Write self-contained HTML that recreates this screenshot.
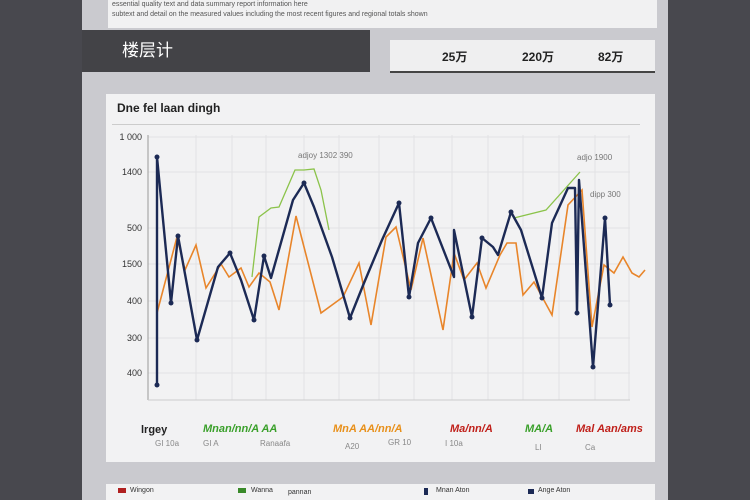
<!DOCTYPE html>
<html><head><meta charset="utf-8"><style>
body{margin:0;width:750px;height:500px;overflow:hidden;background:#c9c9cd;font-family:"Liberation Sans","Noto Sans CJK SC",sans-serif;position:relative}
.a{position:absolute}
</style></head><body>
<div class="a" style="left:0;top:0;width:82px;height:500px;background:#48484e"></div>
<div class="a" style="left:668px;top:0;width:82px;height:500px;background:#48484e"></div>
<div class="a" style="left:82px;top:0;width:586px;height:500px;background:#cacacf"></div>
<div class="a" style="left:108px;top:0;width:545px;height:28px;background:#f1f1f2;font-size:7px;color:#555;line-height:10px;padding-left:4px">essential quality text and data summary report information here<br>subtext and detail on the measured values including the most recent figures and regional totals shown</div>
<div class="a" style="left:82px;top:30px;width:288px;height:42px;background:#434347;color:#fff;font-size:17px;line-height:42px;padding-left:40px;box-sizing:border-box">楼层计</div>
<div class="a" style="left:390px;top:40px;width:265px;height:31px;background:#efeff0;border-bottom:2px solid #444;font-size:12px;font-weight:bold;color:#222">
<span class="a" style="left:52px;top:8px">25万</span><span class="a" style="left:132px;top:8px">220万</span><span class="a" style="left:208px;top:8px">82万</span></div>
<div class="a" style="left:106px;top:94px;width:549px;height:368px;background:#f2f2f3"></div>
<div class="a" style="left:117px;top:101px;font-size:12px;font-weight:bold;color:#222">Dne fel laan dingh</div>
<div class="a" style="left:112px;top:124px;width:528px;height:1px;background:#ccc"></div>
<svg class="a" style="left:0;top:0" width="750" height="500">
<g stroke="#e2e2e4" stroke-width="1">
<line x1="148" y1="137" x2="630" y2="137"/><line x1="148" y1="172" x2="630" y2="172"/><line x1="148" y1="228" x2="630" y2="228"/><line x1="148" y1="264" x2="630" y2="264"/><line x1="148" y1="301" x2="630" y2="301"/><line x1="148" y1="338" x2="630" y2="338"/><line x1="148" y1="373" x2="630" y2="373"/>
<line x1="196" y1="135" x2="196" y2="400"/><line x1="232" y1="135" x2="232" y2="400"/><line x1="266" y1="135" x2="266" y2="400"/><line x1="304" y1="135" x2="304" y2="400"/><line x1="339" y1="135" x2="339" y2="400"/><line x1="379" y1="135" x2="379" y2="400"/><line x1="414" y1="135" x2="414" y2="400"/><line x1="452" y1="135" x2="452" y2="400"/><line x1="488" y1="135" x2="488" y2="400"/><line x1="523" y1="135" x2="523" y2="400"/><line x1="559" y1="135" x2="559" y2="400"/><line x1="595" y1="135" x2="595" y2="400"/><line x1="629" y1="135" x2="629" y2="400"/>
</g>
<line x1="148" y1="135" x2="148" y2="400" stroke="#999"/>
<line x1="148" y1="400" x2="630" y2="400" stroke="#ccc"/>
<g font-size="9" fill="#333" text-anchor="end"><text x="142" y="140">1 000</text><text x="142" y="175">1400</text><text x="142" y="231">500</text><text x="142" y="267">1500</text><text x="142" y="304">400</text><text x="142" y="341">300</text><text x="142" y="376">400</text></g>
<g font-size="8" fill="#777"><text x="298" y="158">adjoy 1302 390</text><text x="577" y="160">adjo 1900</text><text x="590" y="197">dipp 300</text></g>
<polyline fill="none" stroke="#8bc34a" stroke-width="1.3" points="252,277 259,217 271,208 279,207 295,170 304,170 314,169 321,190 329,230"/>
<polyline fill="none" stroke="#8bc34a" stroke-width="1.3" points="514,218 546,210 580,172"/>
<polyline fill="none" stroke="#e8852a" stroke-width="1.6" points="157,313 177,237 185,270 196,245 206,288 221,264 229,277 241,268 249,287 259,273 270,282 279,310 296,216 304,247 321,313 343,297 359,263 371,325 386,237 396,227 411,290 423,238 443,330 454,253 464,280 477,263 486,288 500,255 507,243 516,243 523,295 534,282 552,315 568,205 582,190 592,327 604,265 614,273 623,257 632,273 639,277 645,270"/>
<polyline fill="none" stroke="#1c2a55" stroke-width="2.4" stroke-linejoin="round" points="157,385 157,157 171,303 178,236 185,274 197,340 218,267 230,253 241,280 254,320 264,256 271,278 293,200 304,183 314,207 332,257 350,318 364,283 382,240 399,203 409,297 418,243 431,218 454,277 454,230 472,317 482,238 493,247 498,255 511,212 521,230 542,298 552,223 568,188 575,188 577,313 579,180 593,367 605,218 610,305"/>
<g fill="#1c2a55"><circle cx="157" cy="385" r="2.5"/><circle cx="157" cy="157" r="2.5"/><circle cx="171" cy="303" r="2.5"/><circle cx="178" cy="236" r="2.5"/><circle cx="197" cy="340" r="2.5"/><circle cx="230" cy="253" r="2.5"/><circle cx="254" cy="320" r="2.5"/><circle cx="264" cy="256" r="2.5"/><circle cx="304" cy="183" r="2.5"/><circle cx="350" cy="318" r="2.5"/><circle cx="399" cy="203" r="2.5"/><circle cx="409" cy="297" r="2.5"/><circle cx="431" cy="218" r="2.5"/><circle cx="472" cy="317" r="2.5"/><circle cx="482" cy="238" r="2.5"/><circle cx="511" cy="212" r="2.5"/><circle cx="542" cy="298" r="2.5"/><circle cx="577" cy="313" r="2.5"/><circle cx="593" cy="367" r="2.5"/><circle cx="605" cy="218" r="2.5"/><circle cx="610" cy="305" r="2.5"/></g>
<g font-size="11" font-style="italic" font-weight="bold">
<text x="141" y="433" fill="#222" font-style="normal">lrgey</text>
<text x="203" y="432" fill="#3aa02a">Mnan/nn/A AA</text>
<text x="333" y="432" fill="#e8901a">MnA AA/nn/A</text>
<text x="450" y="432" fill="#c0201a">Ma/nn/A</text><text x="525" y="432" fill="#3aa02a">MA/A</text>
<text x="576" y="432" fill="#c0201a">Mal Aan/ams</text></g>
<g font-size="8" fill="#888"><text x="155" y="446">GI 10a</text><text x="203" y="446">GI A</text><text x="260" y="446">Ranaafa</text><text x="345" y="449">A20</text><text x="388" y="445">GR 10</text><text x="445" y="446">I 10a</text><text x="535" y="450">LI</text><text x="585" y="450">Ca</text></g>
</svg>
<div class="a" style="left:106px;top:484px;width:549px;height:16px;background:#f2f2f3;font-size:7px;color:#333">
<span class="a" style="left:12px;top:4px;width:8px;height:5px;background:#b02020"></span><span class="a" style="left:24px;top:3px">Wingon</span>
<span class="a" style="left:132px;top:4px;width:8px;height:5px;background:#3a8a2a"></span><span class="a" style="left:145px;top:3px">Wanna</span><span class="a" style="left:182px;top:5px">pannan</span>
<span class="a" style="left:318px;top:4px;width:4px;height:7px;background:#1c2a55"></span><span class="a" style="left:330px;top:3px">Mnan Aton</span>
<span class="a" style="left:422px;top:5px;width:6px;height:5px;background:#1c2a55"></span><span class="a" style="left:432px;top:3px">Ange Aton</span></div>
</body></html>
